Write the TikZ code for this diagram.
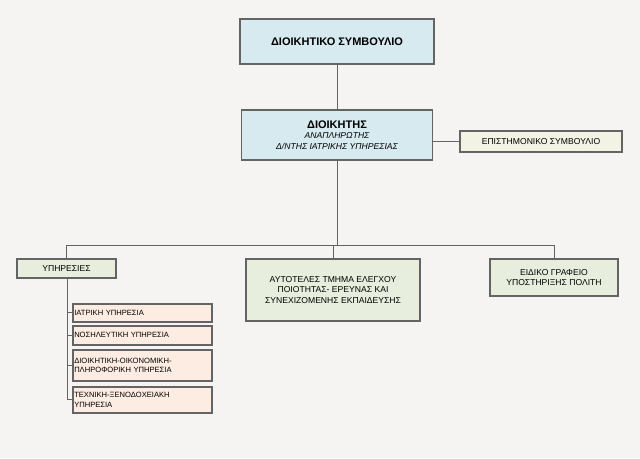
\documentclass[tikz,border=0pt]{standalone}
\usepackage{fontspec}
\setmainfont{Liberation Sans}
\usetikzlibrary{positioning}
\definecolor{bgcol}{RGB}{245,244,242}
\definecolor{bluebox}{RGB}{214,234,240}
\definecolor{greenbox}{RGB}{232,238,222}
\definecolor{paleyel}{RGB}{242,243,228}
\definecolor{peachbox}{RGB}{252,236,226}
\definecolor{edgecol}{RGB}{100,100,100}
\tikzset{
  unit/.style={draw=edgecol, line width=1.8pt, inner sep=0pt, align=center, font=\fontsize{8.6}{10.5}\selectfont},
  sub/.style={unit, line width=1.5pt, fill=peachbox, minimum width=139pt, align=left, text width=136pt, font=\fontsize{7.6}{9.5}\selectfont},
  link/.style={draw=edgecol, line width=0.9pt}
}
\begin{document}
\begin{tikzpicture}[x=1pt,y=-1pt]
    \fill[bgcol] (0,0) rectangle (640,458);
    \useasboundingbox (0,0) rectangle (640,458);

    \node[unit, fill=bluebox, minimum width=194pt, minimum height=45pt, font=\fontsize{11}{13}\selectfont\bfseries] (board) at (337,41.5) {ΔΙΟΙΚΗΤΙΚΟ ΣΥΜΒΟΥΛΙΟ};
    \node[unit, fill=bluebox, minimum width=191pt, minimum height=50pt] (dir) at (337,135) {{\fontsize{11}{13}\selectfont\bfseries ΔΙΟΙΚΗΤΗΣ}\\ \itshape ΑΝΑΠΛΗΡΩΤΗΣ\\ \itshape Δ/ΝΤΗΣ ΙΑΤΡΙΚΗΣ ΥΠΗΡΕΣΙΑΣ};
    \node[unit, line width=1.5pt, fill=paleyel, minimum width=162pt, minimum height=21pt] (sci) at (541,141.5) {ΕΠΙΣΤΗΜΟΝΙΚΟ ΣΥΜΒΟΥΛΙΟ};

    \node[unit, fill=greenbox, minimum width=99pt, minimum height=19pt] (serv) at (66.5,268.5) {ΥΠΗΡΕΣΙΕΣ};
    \node[unit, fill=greenbox, minimum width=174pt, minimum height=62pt] (qual) at (333,290) {ΑΥΤΟΤΕΛΕΣ ΤΜΗΜΑ ΕΛΕΓΧΟΥ\\ ΠΟΙΟΤΗΤΑΣ- ΕΡΕΥΝΑΣ ΚΑΙ\\ ΣΥΝΕΧΙΖΟΜΕΝΗΣ ΕΚΠΑΙΔΕΥΣΗΣ};
    \node[unit, fill=greenbox, minimum width=128pt, minimum height=37pt] (citz) at (554,277.5) {ΕΙΔΙΚΟ ΓΡΑΦΕΙΟ\\ ΥΠΟΣΤΗΡΙΞΗΣ ΠΟΛΙΤΗ};

    \node[sub, minimum height=18pt, anchor=north west] (med) at (72,303) {ΙΑΤΡΙΚΗ ΥΠΗΡΕΣΙΑ};
    \node[sub, minimum height=19pt, anchor=north west] (nurse) at (72,325) {ΝΟΣΗΛΕΥΤΙΚΗ ΥΠΗΡΕΣΙΑ};
    \node[sub, minimum height=31pt, anchor=north west] (adm) at (72,349) {ΔΙΟΙΚΗΤΙΚΗ-ΟΙΚΟΝΟΜΙΚΗ-\\ΠΛΗΡΟΦΟΡΙΚΗ ΥΠΗΡΕΣΙΑ};
    \node[sub, minimum height=26pt, anchor=north west] (tech) at (72,386) {ΤΕΧΝΙΚΗ-ΞΕΝΟΔΟΧΕΙΑΚΗ\\ΥΠΗΡΕΣΙΑ};

    % connectors
    \coordinate (bus) at (337,245);
    \draw[link] (board) -- (dir);
    \draw[link] (dir.east |- sci) -- (sci);
    \draw[link] (dir) -- (bus);
    \draw[link] (bus) -| (serv.north);
    \draw[link] (bus) -| (qual.north);
    \draw[link] (bus) -| (citz.north);
    \coordinate (trunk) at (67,278);
    \draw[link] (trunk) |- (tech.west);
    \foreach \s in {med,nurse,adm}
      \draw[link] (trunk |- \s.west) -- (\s.west);
\end{tikzpicture}
\end{document}
